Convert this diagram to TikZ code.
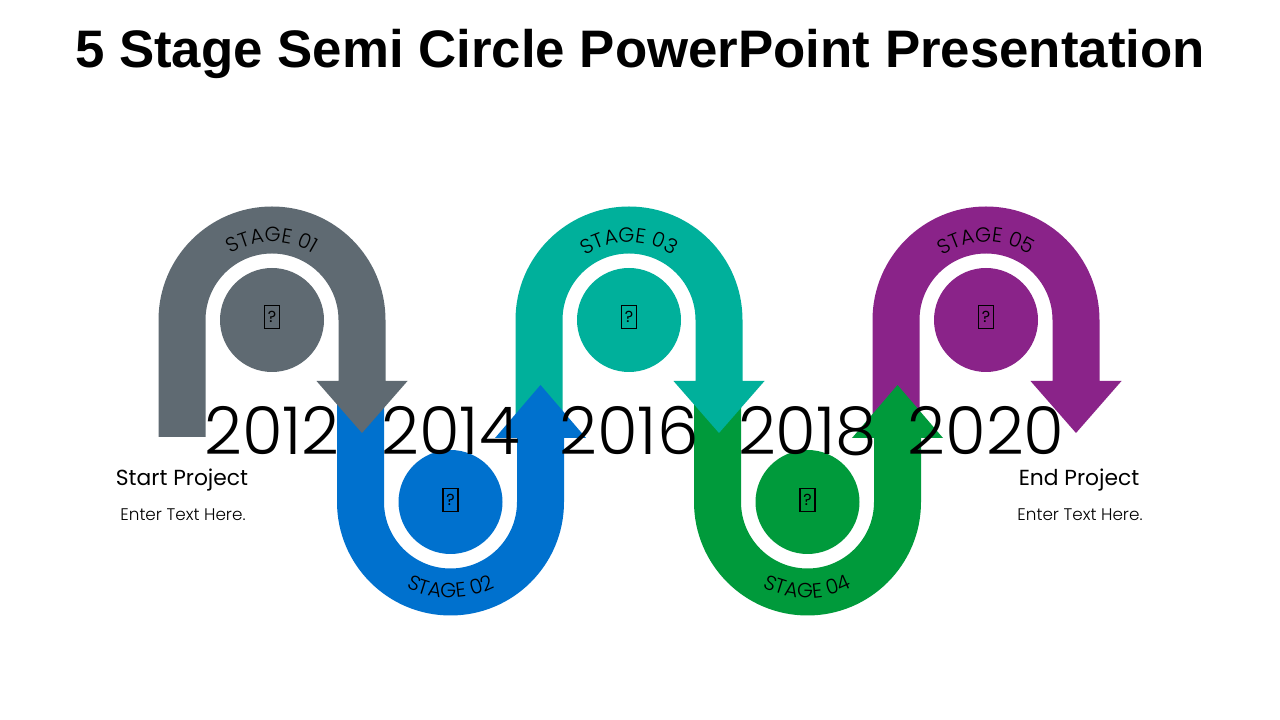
\documentclass[tikz,border=0pt]{standalone}
\usepackage{fontspec}
\setmainfont{Poppins}
\newfontfamily\titlefont{Liberation Sans}
\newfontfamily\yearfont{Poppins}[UprightFont=* Light]
\usetikzlibrary{decorations.text}
\definecolor{cgray}{HTML}{5F6A72}
\definecolor{cblue}{HTML}{0071CE}
\definecolor{cteal}{HTML}{00B09B}
\definecolor{cgreen}{HTML}{009A3B}
\definecolor{cpurple}{HTML}{8A2389}
\newcommand\stagefont{\yearfont\fontsize{20.5}{20.5}\selectfont}
\tikzset{
  iconbox/.style={draw=black, line width=1.2pt, minimum width=15pt, minimum height=23pt, inner sep=0pt, font=\fontsize{16}{16}\selectfont},
  year/.style={font=\yearfont\fontsize{66}{66}\selectfont, inner sep=0pt, anchor=base},
}
% top arch: cx, colour, bottom of left stem, label
\newcommand\topstage[4]{%
  \fill[#2] ({#1-113.5},#3) -- ({#1-113.5},400) arc[start angle=180,end angle=0,radius=113.5]
    -- ({#1+113.5},339) -- ({#1+135.5},339) -- ({#1+90},287) -- ({#1+44.5},339)
    -- ({#1+66.5},339) -- ({#1+66.5},400) arc[start angle=0,end angle=180,radius=66.5]
    -- ({#1-66.5},#3) -- cycle;
  \fill[#2] (#1,400) circle[radius=52];
  \node[iconbox] at (#1,403) {?};
  \path[decorate, decoration={text along path, text={|\stagefont|#4}, text align=center}]
    ([shift={(150:78)}]#1,400) arc[start angle=150,end angle=30,radius=78];
}
% bottom U: cx, colour, top of left stem, label
\newcommand\botstage[4]{%
  \fill[#2] ({#1-113.5},#3) -- ({#1-113.5},218) arc[start angle=180,end angle=360,radius=113.5]
    -- ({#1+113.5},282) -- ({#1+135.5},282) -- ({#1+90},335) -- ({#1+44.5},282)
    -- ({#1+66.5},282) -- ({#1+66.5},218) arc[start angle=0,end angle=-180,radius=66.5]
    -- ({#1-66.5},#3) -- cycle;
  \fill[#2] (#1,218) circle[radius=52];
  \node[iconbox] at (#1,220) {?};
  \path[decorate, decoration={text along path, text={|\stagefont|#4}, text align=center}]
    ([shift={(210:96)}]#1,218) arc[start angle=210,end angle=330,radius=96];
}
\begin{document}
\begin{tikzpicture}[x=1pt,y=1pt]
\useasboundingbox[fill=white] (0,0) rectangle (1280,720);
\node[font=\titlefont\bfseries\fontsize{52.8}{52.8}\selectfont, anchor=base, inner sep=0pt] (title) at (640,652) {5 Stage Semi Circle PowerPoint Presentation};
\topstage{986}{cpurple}{295}{STAGE 05}
\botstage{807.5}{cgreen}{328}{STAGE 04}
\topstage{629}{cteal}{295}{STAGE 03}
\botstage{450.5}{cblue}{328}{STAGE 02}
\topstage{272}{cgray}{283}{STAGE 01}
\node[year] (y1) at (272,265) {2012};
\node[year] (y2) at (450.5,265) {2014};
\node[year] (y3) at (629,265) {2016};
\node[year] (y4) at (807.5,265) {2018};
\node[year] (y5) at (986,265) {2020};
\node[font=\fontsize{21.8}{21.8}\selectfont] (sp) at (182,240) {Start Project};
\node[font=\yearfont\fontsize{16.8}{16.8}\selectfont] (st) at (183,205) {Enter Text Here.};
\node[font=\fontsize{21.8}{21.8}\selectfont] (ep) at (1079,240) {End Project};
\node[font=\yearfont\fontsize{16.8}{16.8}\selectfont] (et) at (1080,205) {Enter Text Here.};
\end{tikzpicture}
\end{document}
